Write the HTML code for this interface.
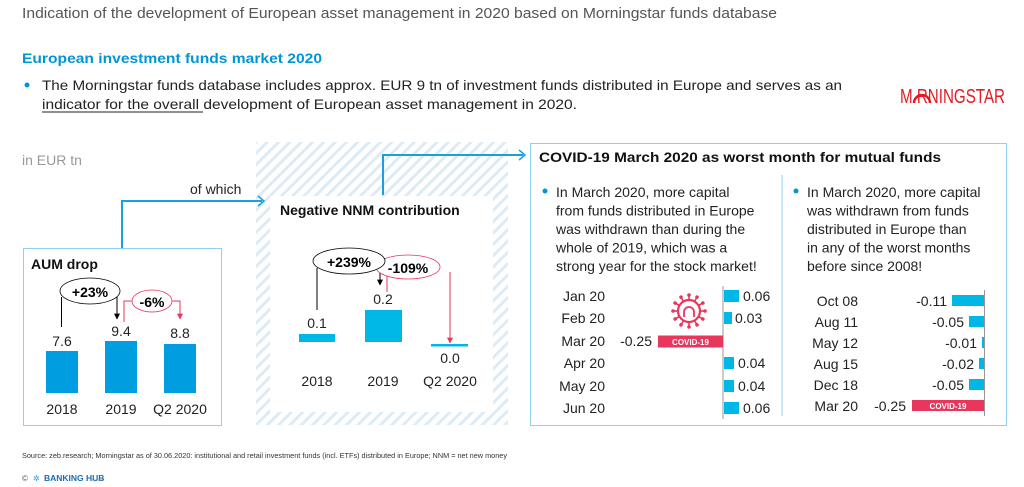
<!DOCTYPE html>
<html><head><meta charset="utf-8">
<style>
html,body{margin:0;padding:0;background:#fff;}
svg{display:block;font-family:"Liberation Sans",sans-serif;}
</style></head>
<body>
<svg width="1024" height="487" viewBox="0 0 1024 487" xmlns="http://www.w3.org/2000/svg">
<defs>
<pattern id="hatch" width="8" height="8" patternUnits="userSpaceOnUse" patternTransform="rotate(45)">
<rect width="8" height="8" fill="#fff"/>
<rect width="3" height="8" fill="#dcebf5"/>
</pattern>
<marker id="ab" viewBox="0 0 10 10" refX="9" refY="5" markerWidth="6" markerHeight="6" orient="auto"><path d="M0,0 L10,5 L0,10 z" fill="#000"/></marker>
<marker id="ap" viewBox="0 0 10 10" refX="9" refY="5" markerWidth="6" markerHeight="6" orient="auto"><path d="M0,0 L10,5 L0,10 z" fill="#e8365d"/></marker>
</defs>

<text x="22" y="18" font-size="14.5" fill="#555" textLength="755" lengthAdjust="spacingAndGlyphs">Indication of the development of European asset management in 2020 based on Morningstar funds database</text>
<text x="22" y="63" font-size="14" font-weight="bold" fill="#0096d6" textLength="300" lengthAdjust="spacingAndGlyphs">European investment funds market 2020</text>
<circle cx="27" cy="85" r="2.5" fill="#0096d6"/>
<text x="42" y="90" font-size="14" fill="#222" textLength="800" lengthAdjust="spacingAndGlyphs">The Morningstar funds database includes approx. EUR 9 tn of investment funds distributed in Europe and serves as an</text>
<text x="42" y="109" font-size="14" fill="#222" textLength="535" lengthAdjust="spacingAndGlyphs">indicator for the overall development of European asset management in 2020.</text>
<line x1="42" y1="112" x2="203" y2="112" stroke="#222" stroke-width="1"/>
<text x="900" y="103" font-size="20" fill="#e31b23" textLength="105" lengthAdjust="spacingAndGlyphs">M  RNINGSTAR</text>
<path d="M914,103 A8,8 0 0 1 930,103" fill="none" stroke="#e31b23" stroke-width="2.5"/>

<text x="22" y="165" font-size="14" fill="#999">in EUR tn</text>

<rect x="256" y="142" width="252" height="283" fill="url(#hatch)"/>
<rect x="270" y="196" width="223" height="216" fill="#fff"/>

<path d="M122,248 V201 H262" fill="none" stroke="#1a9fe0" stroke-width="2"/>
<path d="M258,196 L264,201 L258,206" fill="none" stroke="#1a9fe0" stroke-width="1.5"/>
<text x="190" y="194" font-size="14" fill="#222">of which</text>
<path d="M383,195 V155 H523" fill="none" stroke="#1a9fe0" stroke-width="2"/>
<path d="M519,150 L525,155 L519,160" fill="none" stroke="#1a9fe0" stroke-width="1.5"/>

<rect x="23.5" y="248.5" width="198" height="177" fill="#fff" stroke="#8fd0f0" stroke-width="1"/>
<text x="31" y="269" font-size="14" font-weight="bold" fill="#111">AUM drop</text>
<rect x="46" y="351" width="32" height="42" fill="#009de0"/>
<rect x="105" y="341" width="32" height="52" fill="#009de0"/>
<rect x="164" y="344" width="32" height="49" fill="#009de0"/>
<g font-size="14" fill="#222" text-anchor="middle">
<text x="62" y="346">7.6</text><text x="121" y="336">9.4</text><text x="180" y="338">8.8</text>
<text x="62" y="414">2018</text><text x="121" y="414">2019</text><text x="180" y="414">Q2 2020</text>
</g>
<line x1="61.5" y1="297" x2="61.5" y2="327" stroke="#000" stroke-width="1"/>
<line x1="117" y1="296" x2="117" y2="319" stroke="#000" stroke-width="1" marker-end="url(#ab)"/>
<ellipse cx="90" cy="291" rx="30" ry="13" fill="#fff" stroke="#000" stroke-width="0.8"/>
<text x="90" y="297" font-size="14" font-weight="bold" text-anchor="middle">+23%</text>
<path d="M124,322 V301 H133" fill="none" stroke="#e8365d" stroke-width="1"/>
<path d="M171,301 H180 V319" fill="none" stroke="#e8365d" stroke-width="1" marker-end="url(#ap)"/>
<ellipse cx="152" cy="301" rx="20" ry="11" fill="#fff" stroke="#e8365d" stroke-width="0.8"/>
<text x="152" y="307" font-size="14" font-weight="bold" text-anchor="middle">-6%</text>

<text x="280" y="215" font-size="14" font-weight="bold" fill="#111">Negative NNM contribution</text>
<rect x="299" y="334" width="36" height="8" fill="#00b8e8"/>
<rect x="365" y="310" width="37" height="32" fill="#00b8e8"/>
<rect x="431" y="344" width="37" height="2.5" fill="#00b8e8"/>
<g font-size="14" fill="#222" text-anchor="middle">
<text x="317" y="328">0.1</text><text x="383" y="304">0.2</text><text x="450" y="363">0.0</text>
<text x="317" y="386">2018</text><text x="383" y="386">2019</text><text x="450" y="386">Q2 2020</text>
</g>
<line x1="317" y1="268" x2="317" y2="310" stroke="#000" stroke-width="1"/>
<line x1="380" y1="268" x2="380" y2="285" stroke="#000" stroke-width="1" marker-end="url(#ab)"/>
<path d="M387,292 V272" fill="none" stroke="#e8365d" stroke-width="1"/>
<path d="M450,272 V343" fill="none" stroke="#e8365d" stroke-width="1" marker-end="url(#ap)"/>
<ellipse cx="408" cy="267" rx="32" ry="12" fill="#fff" stroke="#e8365d" stroke-width="0.8"/>
<text x="408" y="273" font-size="14" font-weight="bold" text-anchor="middle">-109%</text>
<ellipse cx="349" cy="261" rx="36" ry="13" fill="#fff" stroke="#000" stroke-width="0.8"/>
<text x="349" y="267" font-size="14" font-weight="bold" text-anchor="middle">+239%</text>

<rect x="530.5" y="143.5" width="476" height="282" fill="#fff" stroke="#8fd0f0" stroke-width="1"/>
<text x="539" y="162" font-size="14" font-weight="bold" fill="#111" textLength="402" lengthAdjust="spacingAndGlyphs">COVID-19 March 2020 as worst month for mutual funds</text>
<line x1="782" y1="175" x2="782" y2="416" stroke="#8fd0f0" stroke-width="1"/>
<circle cx="545" cy="191" r="2.5" fill="#0096d6"/>
<g font-size="14" fill="#222">
<text x="556" y="197">In March 2020, more capital</text>
<text x="556" y="215.5">from funds distributed in Europe</text>
<text x="556" y="234">was withdrawn than during the</text>
<text x="556" y="252.5">whole of 2019, which was a</text>
<text x="556" y="271">strong year for the stock market!</text>
</g>
<circle cx="796" cy="191" r="2.5" fill="#0096d6"/>
<g font-size="14" fill="#222">
<text x="807" y="197">In March 2020, more capital</text>
<text x="807" y="215.5">was withdrawn from funds</text>
<text x="807" y="234">distributed in Europe than</text>
<text x="807" y="252.5">in any of the worst months</text>
<text x="807" y="271">before since 2008!</text>
</g>

<line x1="723" y1="286" x2="723" y2="419" stroke="#999" stroke-width="1"/>
<g font-size="14" fill="#222" text-anchor="end">
<text x="605" y="301">Jan 20</text><text x="605" y="323">Feb 20</text><text x="605" y="346">Mar 20</text>
<text x="605" y="368">Apr 20</text><text x="605" y="391">May 20</text><text x="605" y="413">Jun 20</text>
</g>
<rect x="724" y="290" width="15" height="12" fill="#00b8e8"/>
<rect x="724" y="312" width="8" height="12" fill="#00b8e8"/>
<rect x="658" y="335.5" width="65" height="12" fill="#e8365d"/>
<text x="690.5" y="345" font-size="8" font-weight="bold" fill="#fff" text-anchor="middle">COVID-19</text>
<rect x="724" y="357" width="10" height="12" fill="#00b8e8"/>
<rect x="724" y="380" width="10" height="12" fill="#00b8e8"/>
<rect x="724" y="402" width="15" height="12" fill="#00b8e8"/>
<g font-size="14" fill="#222">
<text x="743" y="301">0.06</text><text x="735" y="323">0.03</text>
<text x="738" y="368">0.04</text><text x="738" y="391">0.04</text><text x="743" y="413">0.06</text>
<text x="652" y="346" text-anchor="end">-0.25</text>
</g>
<g stroke="#e8365d" fill="none" stroke-width="2.2">
<circle cx="689" cy="311" r="11"/>
<path d="M684,317 V312 A5,5 0 1 1 694,312 V317" stroke-width="1.8"/>
</g>
<g stroke="#e8365d" stroke-width="1.6" fill="#e8365d">
<g id="sp"><line x1="689" y1="300" x2="689" y2="296"/><circle cx="689" cy="295" r="1.8" stroke="none"/></g>
<use href="#sp" transform="rotate(30 689 311)"/><use href="#sp" transform="rotate(60 689 311)"/>
<use href="#sp" transform="rotate(90 689 311)"/><use href="#sp" transform="rotate(120 689 311)"/>
<use href="#sp" transform="rotate(150 689 311)"/><use href="#sp" transform="rotate(180 689 311)"/>
<use href="#sp" transform="rotate(210 689 311)"/><use href="#sp" transform="rotate(240 689 311)"/>
<use href="#sp" transform="rotate(270 689 311)"/><use href="#sp" transform="rotate(300 689 311)"/>
<use href="#sp" transform="rotate(330 689 311)"/>
</g>

<line x1="984.5" y1="290" x2="984.5" y2="416" stroke="#999" stroke-width="1"/>
<g font-size="14" fill="#222" text-anchor="end">
<text x="858" y="306">Oct 08</text><text x="858" y="327">Aug 11</text><text x="858" y="348">May 12</text>
<text x="858" y="369">Aug 15</text><text x="858" y="390">Dec 18</text><text x="858" y="411">Mar 20</text>
<text x="947" y="306">-0.11</text><text x="964" y="327">-0.05</text><text x="977" y="348">-0.01</text>
<text x="974" y="369">-0.02</text><text x="964" y="390">-0.05</text><text x="906" y="411">-0.25</text>
</g>
<rect x="952" y="295" width="32" height="11" fill="#00b8e8"/>
<rect x="969" y="316" width="15" height="11" fill="#00b8e8"/>
<rect x="982" y="337" width="2" height="11" fill="#00b8e8"/>
<rect x="979" y="358" width="5" height="11" fill="#00b8e8"/>
<rect x="969" y="379" width="15" height="11" fill="#00b8e8"/>
<rect x="912" y="400" width="72" height="11" fill="#e8365d"/>
<text x="948" y="409" font-size="8" font-weight="bold" fill="#fff" text-anchor="middle">COVID-19</text>

<text x="22" y="458" font-size="7.5" fill="#333" textLength="485" lengthAdjust="spacingAndGlyphs">Source: zeb.research; Morningstar as of 30.06.2020: institutional and retail investment funds (incl. ETFs) distributed in Europe; NNM = net new money</text>
<text x="22" y="481" font-size="8" fill="#555">©</text>
<text x="33" y="481" font-size="8" fill="#1a9fe0">✲</text>
<text x="44" y="481" font-size="8.5" font-weight="bold" fill="#1a6fb0">BANKING HUB</text>
<text x="91" y="481" font-size="4" fill="#888">by zeb</text>
</svg>
</body></html>
